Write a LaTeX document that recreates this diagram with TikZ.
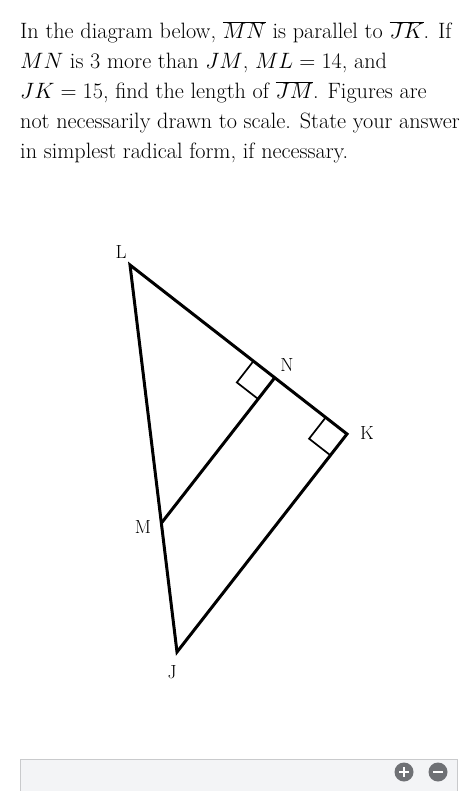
\RequirePackage{fix-cm}
\documentclass[tikz,border=0pt]{standalone}
\usetikzlibrary{calc}
\definecolor{boxfill}{HTML}{F3F4F6}
\definecolor{boxline}{HTML}{C9CACC}
\definecolor{icongray}{HTML}{6F7175}
\tikzset{
  side/.style={line width=3pt, line join=miter},
  rightmark/.style={line width=1.7pt},
  vlabel/.style={font=\fontsize{19}{19}\selectfont, inner sep=0pt},
  iconbtn/.style={circle, fill=icongray, minimum size=19pt, inner sep=0pt}
}
\begin{document}
\begin{tikzpicture}[x=1pt,y=-1pt]
    \useasboundingbox (0,0) rectangle (474,791);
    \fill[white] (0,0) rectangle (474,791);

    % question text
    \node[anchor=north west, inner sep=0pt, align=left,
          font=\fontsize{22.2}{30}\selectfont] (question) at (20,21)
    {In the diagram below, $\overline{MN}$ is parallel to $\overline{JK}$. If\\
     $MN$ is $3$ more than $JM$, $ML=14$, and\\
     $JK=15$, find the length of $\overline{JM}$. Figures are\\
     not necessarily drawn to scale. State your answer\\
     in simplest radical form, if necessary.};

    % triangle
    \coordinate (L) at (130,265);
    \coordinate (K) at (347,434);
    \coordinate (J) at (177,652);
    \coordinate (M) at ($(L)!0.667!(J)$);
    \coordinate (N) at ($(L)!0.667!(K)$);

    \draw[side] (L) -- (K) -- (J) -- cycle;
    \draw[side] (M) -- (N);

    % right angle marks
    \coordinate (n1) at ($(N)!27pt!(L)$);
    \coordinate (n2) at ($(N)!27pt!(M)$);
    \draw[rightmark] (n1) -- ($(n1)+(n2)-(N)$) -- (n2);
    \coordinate (k1) at ($(K)!27pt!(L)$);
    \coordinate (k2) at ($(K)!27pt!(J)$);
    \draw[rightmark] (k1) -- ($(k1)+(k2)-(K)$) -- (k2);

    \node[vlabel] (labL) at (121,252) {L};
    \node[vlabel] (labN) at (287,365) {N};
    \node[vlabel] (labK) at (367,433) {K};
    \node[vlabel] (labM) at (143,527) {M};
    \node[vlabel] (labJ) at (172,672) {J};

    % answer box
    \draw[boxline, fill=boxfill, line width=0.8pt] (20,759) rectangle (457,795);
    \node[iconbtn] (plus) at (404,772) {};
    \draw[white, line width=2.4pt] ($(plus)+(-5,0)$) -- ($(plus)+(5,0)$);
    \draw[white, line width=2.4pt] ($(plus)+(0,-5)$) -- ($(plus)+(0,5)$);
    \node[iconbtn] (minus) at (438,772) {};
    \draw[white, line width=2.4pt] ($(minus)+(-5,0)$) -- ($(minus)+(5,0)$);
\end{tikzpicture}
\end{document}
